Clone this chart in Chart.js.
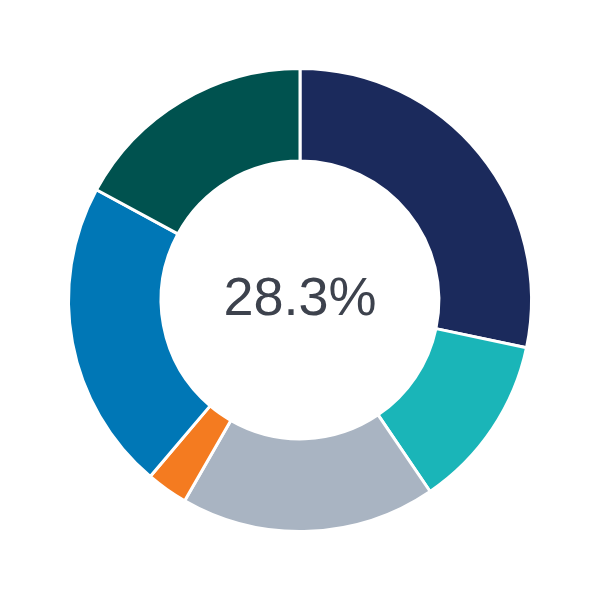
<!DOCTYPE html>
<html>
<head>
<meta charset="utf-8">
<script src="https://cdn.jsdelivr.net/npm/chart.js@4"></script>
<style>
  html, body { margin: 0; padding: 0; background: #fff; }
  #wrap { width: 600px; height: 600px; }
</style>
</head>
<body>
<div id="wrap"><canvas id="myChart"></canvas></div>
<script>
// Data
var labels = ['Segment A', 'Segment B', 'Segment C', 'Segment D', 'Segment E', 'Segment F'];
var values = [28.3, 12.2, 17.8, 2.9, 21.7, 17.1];
var colors = ['#1b2a5c', '#1ab5b8', '#a9b4c2', '#f47b20', '#0077b6', '#00524f'];
var centerLabel = '28.3%';

// Draws the big number in the hole
var centerText = {
    id: 'centerText',
    afterDraw: function(chart) {
        var ctx = chart.ctx;
        var meta = chart.getDatasetMeta(0).data[0];
        ctx.save();
        ctx.font = '54px "Liberation Sans", Arial, sans-serif';
        ctx.fillStyle = '#3d424d';
        ctx.textAlign = 'center';
        ctx.textBaseline = 'middle';
        ctx.fillText(centerLabel, meta.x, meta.y);
        ctx.restore();
    }
};

var ctx = document.getElementById('myChart').getContext('2d');
var myChart = new Chart(ctx, {
    type: 'doughnut',
    data: {
        labels: labels,
        datasets: [{
            data: values,
            backgroundColor: colors,
            borderColor: '#ffffff',
            borderWidth: 3
        }]
    },
    options: {
        responsive: true,
        maintainAspectRatio: false,
        animation: false,
        cutout: '60%',
        layout: { padding: 67 },
        plugins: {
            legend: { display: false },
            tooltip: { enabled: false }
        }
    },
    plugins: [centerText]
});
</script>
</body>
</html>
